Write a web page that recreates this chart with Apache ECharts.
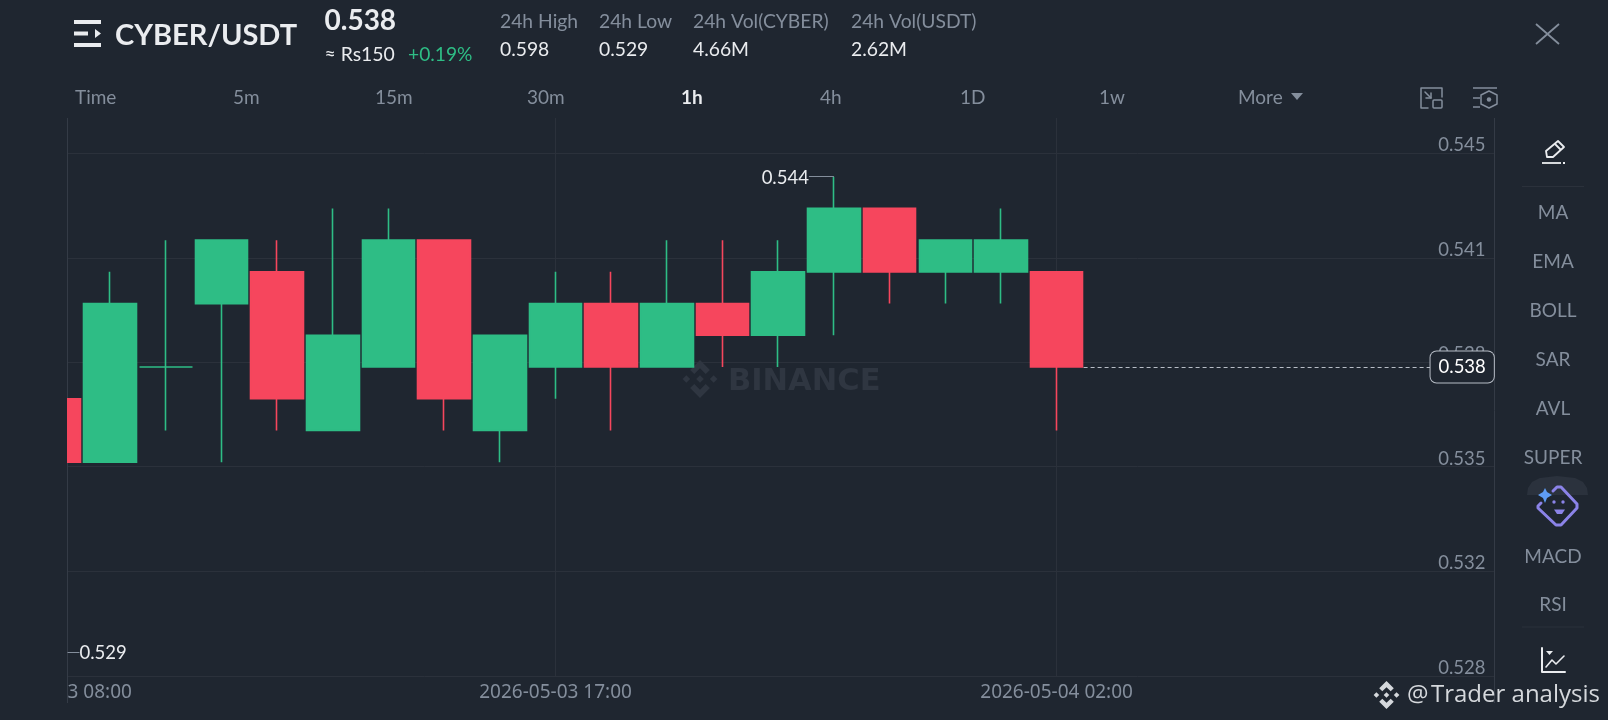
<!DOCTYPE html>
<html><head><meta charset="utf-8">
<style>html,body{margin:0;padding:0;background:#1f2630;overflow:hidden}#c{width:1608px;height:720px}</style>
<script src="https://cdn.jsdelivr.net/npm/echarts@6/dist/echarts.min.js"></script>
</head><body><div id="c"></div>
<script>
const categories=['2026-05-03 08:00','2026-05-03 09:00','2026-05-03 10:00','2026-05-03 11:00','2026-05-03 12:00','2026-05-03 13:00','2026-05-03 14:00','2026-05-03 15:00','2026-05-03 16:00','2026-05-03 17:00','2026-05-03 18:00','2026-05-03 19:00','2026-05-03 20:00','2026-05-03 21:00','2026-05-03 22:00','2026-05-03 23:00','2026-05-04 00:00','2026-05-04 01:00','2026-05-04 02:00'];
const opens =[0.537,0.535,0.538,0.540,0.541,0.536,0.538,0.542,0.536,0.538,0.540,0.538,0.540,0.539,0.541,0.543,0.541,0.541,0.541];
const closes=[0.535,0.540,0.538,0.542,0.537,0.539,0.542,0.537,0.539,0.540,0.538,0.540,0.539,0.541,0.543,0.541,0.542,0.542,0.538];
const lows  =[0.529,0.535,0.536,0.535,0.536,0.536,0.538,0.536,0.535,0.537,0.536,0.538,0.538,0.538,0.539,0.540,0.540,0.540,0.536];
const highs =[0.538,0.541,0.542,0.542,0.542,0.543,0.543,0.542,0.539,0.541,0.541,0.542,0.542,0.542,0.544,0.543,0.542,0.543,0.541];
const yTickValues=[0.52826,0.53156,0.53486,0.53815,0.54144,0.54473];
const xTickLabels=['3 08:00','2026-05-03 17:00','2026-05-04 02:00'];
const lastPrice=0.538, periodHigh=0.544, periodLow=0.529;
const timeframes=[['Time',75],['5m',233],['15m',375],['30m',527],['4h',820],['1D',960],['1w',1099],['More',1238]];
const studies=[['MA',213],['EMA',262],['BOLL',311],['SAR',360],['AVL',409],['SUPER',458],['MACD',557],['RSI',605]];
const statsHead=[['24h High',500,'0.598'],['24h Low',599,'0.529'],['24h Vol(CYBER)',693,'4.66M'],['24h Vol(USDT)',851,'2.62M']];

const PX=1/55.68;            // candles per pixel of the plot
const xMin=13*PX, xMax=xMin+1427.2*PX;
const rows=categories.map((c,i)=>[i,opens[i],closes[i],lows[i],highs[i]]);
const xTicks=[categories.indexOf('2026-05-03 17:00'),categories.indexOf('2026-05-04 02:00')];

const UI='Lato, "Noto Sans", sans-serif';
const GRAY='#848E9C', WHITE='#EAECEF', BG='#1f2630', LINE='#2b313b', EDGE='#343b46', GREEN='#2EBD85', RED='#F6465D';
const g=[];
const txt=(text,x,y,size,fill,weight,align)=>g.push({type:'text',z:5,silent:true,style:{text,x,y,fill,font:(weight||400)+' '+size+'px '+UI,align:align||'left',verticalAlign:'middle'}});
const ln=(x1,y1,x2,y2,stroke,w,z)=>g.push({type:'line',z:z==null?5:z,silent:true,shape:{x1,y1,x2,y2},style:{stroke,lineWidth:w||1,lineCap:'butt'}});
const poly=(points,fill,z,smooth)=>g.push({type:'polygon',z:z==null?5:z,silent:true,shape:{points,smooth:smooth||0},style:{fill}});
const pline=(points,stroke,w,z)=>g.push({type:'polyline',z:z==null?5:z,silent:true,shape:{points},style:{stroke,lineWidth:w||1.5,fill:'none',lineJoin:'round',lineCap:'round'}});
const box=(x,y,w,h,stroke,lw,r)=>g.push({type:'rect',z:5,silent:true,shape:{x,y,width:w,height:h,r:r||0},style:{stroke,lineWidth:lw,fill:'none'}});
function logo(cx,cy,s,fill,z){
  const d=(x,y,r)=>poly([[x,y-r],[x+r,y],[x,y+r],[x-r,y]],fill,z);
  d(cx,cy,s*.2); d(cx-s*.72,cy,s*.2); d(cx+s*.72,cy,s*.2);
  poly([[cx,cy-s],[cx+s*.52,cy-s*.48],[cx+s*.3,cy-s*.26],[cx,cy-s*.56],[cx-s*.3,cy-s*.26],[cx-s*.52,cy-s*.48]],fill,z);
  poly([[cx,cy+s],[cx+s*.52,cy+s*.48],[cx+s*.3,cy+s*.26],[cx,cy+s*.56],[cx-s*.3,cy+s*.26],[cx-s*.52,cy+s*.48]],fill,z);
}
// margin left of the plot: candles that start before the visible window end here
g.push({type:'rect',z:4,silent:true,shape:{x:0,y:118,width:67,height:558},style:{fill:BG}});
// header
ln(74,22,101,22,WHITE,4); ln(74,45,101,45,WHITE,4); ln(74,33.5,88,33.5,WHITE,4);
poly([[95,29],[101,33.5],[95,38]],WHITE);
txt('CYBER/USDT',115,36,29,WHITE,700);
txt('0.538',324.5,21,28,WHITE,700);
txt('≈ Rs150',324.5,55,19.4,WHITE,400);
txt('+0.19%',408,55,19.2,GREEN,400);
statsHead.forEach(s=>{txt(s[0],s[1],22,19.3,GRAY);txt(s[2],s[1],50,19.3,WHITE,400);});
timeframes.forEach(f=>txt(f[0],f[1],98,19,GRAY));
txt('1h',681,98,19,WHITE,700);
poly([[1291,93],[1303,93],[1297,100]],GRAY);
ln(1536,24,1559,44,GRAY,1.8); ln(1559,24,1536,44,GRAY,1.8);
// toolbar icons
pline([[1428,108],[1421,108],[1421,88],[1442,88],[1442,97]],GRAY,1.5);
box(1433,100,9,8,GRAY,1.5,1);
pline([[1425,92],[1431,98]],GRAY,1.5); pline([[1431,93],[1431,98],[1426,98]],GRAY,1.5);
ln(1473,88,1497,88,GRAY,1.5); ln(1473,98,1480,98,GRAY,1.5); ln(1473,107,1480,107,GRAY,1.5);
pline([[1489,91],[1497,95],[1497,104],[1489,108],[1481,104],[1481,95],[1489,91]],GRAY,1.5);
g.push({type:'circle',z:5,silent:true,shape:{cx:1489,cy:99.5,r:2.2},style:{fill:GRAY}});
// plot borders
ln(67.5,118,67.5,703,EDGE,1,1); ln(1494.5,118,1494.5,703,EDGE,1,1);
// sidebar
studies.forEach(s=>txt(s[0],1553,s[1],19,GRAY,400,'center'));
ln(1522,186.5,1584,186.5,LINE,1); ln(1522,627,1584,627,LINE,1);
pline([[1547,157],[1546,151],[1558,141],[1564,147],[1553,157],[1547,157]],WHITE,1.8);
ln(1555,144,1561,150,WHITE,1.8); ln(1542,163,1561,163,WHITE,1.8); ln(1563,163,1565,163,WHITE,1.8);
pline([[1542,648],[1542,672],[1565,672]],WHITE,2);
pline([[1546,667],[1552,660],[1556,664],[1564,656]],WHITE,1.6);
poly([[1546,651],[1553,651],[1549.5,655]],WHITE);
// assistant badge
poly([[1527,495],[1528,488],[1532,482],[1540,478],[1557,476],[1575,478],[1583,482],[1587,488],[1588,495]],'#2b323d',5);
pline([[1541,503],[1538,506],[1538,508],[1556,525],[1561,525],[1577,508],[1577,504],[1561,487],[1557,487],[1553,491]],'#8b83e8',3);
poly([[1545,488],[1547,492],[1552,495],[1547,498],[1545,503],[1543,498],[1538,495],[1543,492]],'#5f9df5',6);
g.push({type:'circle',z:6,silent:true,shape:{cx:1554,cy:502,r:1.7},style:{fill:'#8b83e8'}});
g.push({type:'circle',z:6,silent:true,shape:{cx:1563,cy:502,r:1.7},style:{fill:'#8b83e8'}});
poly([[1554,509.5],[1565,509.5],[1562,514],[1557,514]],'#8b83e8',6);
// watermark
logo(700,379,19,'#2f3641',1);
g.push({type:'text',z:1,silent:true,style:{text:'BINANCE',x:728,y:382.5,fill:'#2f3641',font:'700 30.5px "DejaVu Sans", sans-serif',verticalAlign:'middle',align:'left'}});
// footer mark
logo(1386.5,695,14,'#d5d8dc');
g.push({type:'text',z:7,silent:true,style:{text:'@',x:1407,y:695,fill:'#d5d8dc',font:'400 24px "Open Sans", sans-serif',verticalAlign:'middle',align:'left'}});
g.push({type:'text',z:7,silent:true,style:{text:'Trader analysis',x:1431,y:695,fill:'#d5d8dc',font:'400 24px "Open Sans", sans-serif',verticalAlign:'middle',align:'left'}});

const chart=echarts.init(document.getElementById('c'),null,{renderer:'canvas',width:1608,height:720});
chart.setOption({
  animation:false,backgroundColor:BG,
  grid:{left:67.5,right:113.5,top:118,bottom:44},
  tooltip:{show:false},
  xAxis:{type:'value',min:xMin,max:xMax,
    axisLine:{show:false},
    axisTick:{show:false,customValues:xTicks},
    splitLine:{show:true,lineStyle:{color:LINE,width:1}},
    axisLabel:{customValues:[xMin].concat(xTicks),color:GRAY,fontSize:19,fontFamily:'"Noto Sans", sans-serif',margin:7,alignMinLabel:'left',
      formatter:v=>v===xTicks[0]?xTickLabels[1]:(v===xTicks[1]?xTickLabels[2]:xTickLabels[0])}},
  yAxis:{type:'value',position:'right',min:0.52826,max:0.54585,scale:true,
    axisLine:{show:false},
    axisTick:{show:false,customValues:yTickValues},
    splitLine:{show:true,lineStyle:{color:LINE,width:1}},
    axisLabel:{inside:true,customValues:yTickValues,color:GRAY,fontSize:18.5,fontFamily:UI,margin:9,verticalAlign:'bottom',lineHeight:16,formatter:v=>v.toFixed(3)}},
  series:[{type:'candlestick',name:'CYBER/USDT',data:rows,barWidth:53,z:3,
    itemStyle:{color:GREEN,color0:RED,borderColor:GREEN,borderColor0:RED,borderColorDoji:GREEN,borderWidth:1.6},
    markLine:{silent:true,symbol:'none',animation:false,precision:3,
      data:[
        [{coord:[18+27*PX,lastPrice],lineStyle:{color:'#B7BDC6',type:[4,3],width:1},
          label:{show:true,position:'end',distance:0,formatter:lastPrice.toFixed(3),color:'#fff',fontSize:18.5,fontFamily:UI,backgroundColor:BG,borderColor:'#B7BDC6',borderWidth:1,borderRadius:6,padding:[6,8]}},
         {coord:[18+374*PX,lastPrice]}],
        [{coord:[14-25*PX,periodHigh],lineStyle:{color:GRAY,type:'solid',width:1},
          label:{show:true,position:'start',distance:0,offset:[0,1],formatter:periodHigh.toFixed(3),color:WHITE,fontSize:18.5,fontFamily:UI}},
         {coord:[14,periodHigh]}],
        [{coord:[xMin,periodLow],lineStyle:{color:GRAY,type:'solid',width:1},
          label:{show:true,position:'end',distance:0,offset:[0,1],formatter:periodLow.toFixed(3),color:WHITE,fontSize:18.5,fontFamily:UI}},
         {coord:[xMin+12*PX,periodLow]}]
      ]}
  }],
  graphic:{elements:g}
});
</script></body></html>
